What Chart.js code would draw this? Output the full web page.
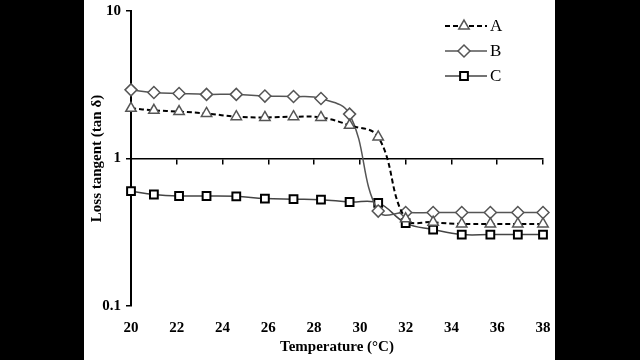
<!DOCTYPE html>
<html>
<head>
<meta charset="utf-8">
<script src="https://cdn.jsdelivr.net/npm/chart.js@4/dist/chart.umd.min.js"></script>
<style>
    html, body { margin: 0; padding: 0; background: #000; }
    #quadro { position: absolute; left: 84px; top: 0; width: 471px; height: 360px; background: #fff; }
</style>
</head>
<body>
<div id="quadro"><canvas id="graficoTangente" width="471" height="360"></canvas></div>
<script>
const temperaturas = [20, 21, 22.1, 23.3, 24.6, 25.85, 27.1, 28.3, 29.55, 30.8, 32.0, 33.2, 34.45, 35.7, 36.9, 38];
const serieA = [2.19, 2.12, 2.08, 2.02, 1.92, 1.90, 1.92, 1.90, 1.68, 1.40, 0.39, 0.37, 0.36, 0.36, 0.36, 0.36];
const serieB = [2.92, 2.80, 2.76, 2.72, 2.72, 2.65, 2.63, 2.55, 2.00, 0.44, 0.43, 0.43, 0.43, 0.43, 0.43, 0.43];
const serieC = [0.60, 0.57, 0.557, 0.557, 0.554, 0.535, 0.53, 0.526, 0.507, 0.50, 0.365, 0.33, 0.305, 0.305, 0.305, 0.305];
const rotulos = ['A', 'B', 'C'];
const ticksY = [0.1, 1, 10];

const fonte = 'Liberation Serif, Times New Roman, serif';

function pontos(valores) {
    return temperaturas.map((t, i) => ({ x: t, y: valores[i] }));
}

function semSobra(scale) {
    scale.paddingLeft = 0;
    scale.paddingRight = 0;
    scale.paddingTop = 0;
    scale.paddingBottom = 0;
}

// legenda no estilo do Excel: linha + marcador
const legendaExcel = {
    id: 'legendaExcel',
    afterDraw(chart) {
        const ctx = chart.ctx;
        const linhas = [26, 51, 76];
        ctx.save();
        chart.data.datasets.forEach((ds, i) => {
            const y = linhas[i];
            ctx.strokeStyle = ds.borderColor;
            ctx.lineWidth = ds.borderWidth;
            ctx.setLineDash(ds.borderDash || []);
            ctx.beginPath();
            ctx.moveTo(361, y);
            ctx.lineTo(403, y);
            ctx.stroke();
            ctx.setLineDash([]);
            ctx.fillStyle = '#fff';
            ctx.strokeStyle = ds.pointBorderColor;
            ctx.lineWidth = ds.pointBorderWidth;
            Chart.helpers.drawPoint(ctx, {
                pointStyle: ds.pointStyle,
                radius: ds.pointRadius,
                borderWidth: ds.pointBorderWidth,
                rotation: 0
            }, 380, y);
            ctx.fillStyle = '#000';
            ctx.font = '17px ' + fonte;
            ctx.textBaseline = 'middle';
            ctx.fillText(ds.label, 406, y + 1);
        });
        ctx.restore();
    }
};

new Chart(document.getElementById('graficoTangente'), {
    type: 'line',
    data: {
        datasets: [
            {
                label: rotulos[0],
                data: pontos(serieA),
                borderColor: '#000',
                borderWidth: 2,
                borderDash: [5, 3],
                pointStyle: 'triangle',
                pointRadius: 6,
                pointBorderColor: '#555',
                pointBackgroundColor: '#fff',
                pointBorderWidth: 1.5
            },
            {
                label: rotulos[1],
                data: pontos(serieB),
                borderColor: '#555',
                borderWidth: 1.5,
                pointStyle: 'rectRot',
                pointRadius: 6,
                pointBorderColor: '#555',
                pointBackgroundColor: '#fff',
                pointBorderWidth: 1.5
            },
            {
                label: rotulos[2],
                data: pontos(serieC),
                borderColor: '#444',
                borderWidth: 1.5,
                pointStyle: 'rect',
                pointRadius: 5.5,
                pointBorderColor: '#000',
                pointBackgroundColor: '#fff',
                pointBorderWidth: 2
            }
        ]
    },
    options: {
        responsive: false,
        animation: false,
        clip: false,
        elements: { line: { tension: 0.4 } },
        layout: { padding: { left: 0, right: 12, top: 11, bottom: 0 } },
        plugins: {
            legend: { display: false },
            tooltip: { enabled: false }
        },
        scales: {
            x: {
                type: 'linear',
                min: 20,
                max: 38,
                border: { display: false },
                grid: { display: false, drawTicks: false },
                ticks: {
                    stepSize: 2,
                    padding: 13,
                    color: '#000',
                    font: { family: fonte, size: 15, weight: 'bold' }
                },
                title: {
                    display: true,
                    text: 'Temperature (°C)',
                    color: '#000',
                    font: { family: fonte, size: 15, weight: 'bold' }
                },
                afterFit(scale) { scale.height = 54; semSobra(scale); }
            },
            x2: {
                type: 'linear',
                axis: 'x',
                position: { y: 1 },
                min: 20,
                max: 38,
                border: { color: '#000', width: 1.5 },
                grid: { drawOnChartArea: false, drawTicks: true, tickLength: 5, color: '#000', lineWidth: 1.5 },
                ticks: { stepSize: 2, display: false },
                afterFit: semSobra
            },
            y: {
                type: 'logarithmic',
                min: 0.1,
                max: 10,
                afterBuildTicks(scale) {
                    scale.ticks = ticksY.map(v => ({ value: v }));
                },
                border: { color: '#000', width: 2 },
                grid: { drawOnChartArea: false, drawTicks: true, tickLength: 5, color: '#000', lineWidth: 1.5 },
                ticks: {
                    padding: 5,
                    color: '#000',
                    font: { family: fonte, size: 15, weight: 'bold' },
                    callback: v => String(v)
                },
                title: {
                    display: true,
                    text: 'Loss tangent (tan δ)',
                    color: '#000',
                    font: { family: fonte, size: 15, weight: 'bold' }
                },
                afterFit(scale) { scale.width = 47; semSobra(scale); }
            }
        }
    },
    plugins: [legendaExcel]
});
</script>
</body>
</html>
